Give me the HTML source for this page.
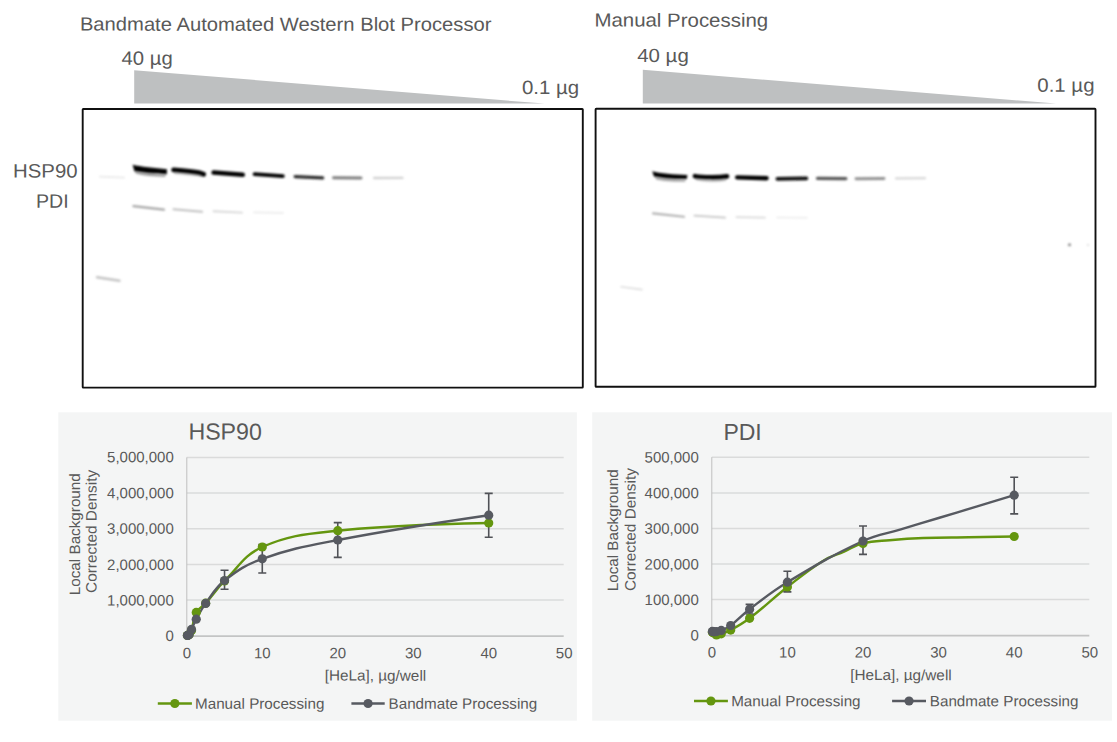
<!DOCTYPE html>
<html><head><meta charset="utf-8"><title>Western blot comparison</title>
<style>html,body{margin:0;padding:0;background:#fff;}svg{display:block;}text{font-family:"Liberation Sans",sans-serif;}</style>
</head><body>
<svg width="1117" height="742" viewBox="0 0 1117 742">
<defs>
<filter id="b1" filterUnits="userSpaceOnUse" x="0" y="0" width="1117" height="742"><feGaussianBlur stdDeviation="0.8"/></filter>
<filter id="b2" filterUnits="userSpaceOnUse" x="0" y="0" width="1117" height="742"><feGaussianBlur stdDeviation="1.2"/></filter>
</defs>
<rect width="1117" height="742" fill="#fff"/>
<text x="79.9" y="30.6" transform="rotate(0.03 79.9 30.6)" font-size="19" text-anchor="start" fill="#595959" textLength="411.6" lengthAdjust="spacingAndGlyphs">Bandmate Automated Western Blot Processor</text>
<text x="594.4" y="26.6" transform="rotate(0.03 594.4 26.6)" font-size="19" text-anchor="start" fill="#595959" textLength="173.8" lengthAdjust="spacingAndGlyphs">Manual Processing</text>
<text x="121.5" y="64.7" transform="rotate(0.03 121.5 64.7)" font-size="19.2" text-anchor="start" fill="#595959" textLength="51.2" lengthAdjust="spacingAndGlyphs">40 µg</text>
<text x="637.2" y="61.9" transform="rotate(0.03 637.2 61.9)" font-size="19" text-anchor="start" fill="#595959" textLength="51.6" lengthAdjust="spacingAndGlyphs">40 µg</text>
<text x="522" y="94" transform="rotate(0.03 522 94)" font-size="19.2" text-anchor="start" fill="#595959" textLength="57.2" lengthAdjust="spacingAndGlyphs">0.1 µg</text>
<text x="1037.3" y="91.7" transform="rotate(0.03 1037.3 91.7)" font-size="19.2" text-anchor="start" fill="#595959" textLength="57.2" lengthAdjust="spacingAndGlyphs">0.1 µg</text>
<text x="13.1" y="177.4" transform="rotate(0.03 13.1 177.4)" font-size="19.4" text-anchor="start" fill="#595959" textLength="64.5" lengthAdjust="spacingAndGlyphs">HSP90</text>
<text x="36" y="207.7" transform="rotate(0.03 36 207.7)" font-size="19.4" text-anchor="start" fill="#595959" textLength="32.6" lengthAdjust="spacingAndGlyphs">PDI</text>
<polygon points="134.2,70.2 544.5,103.6 134.2,103.6" fill="#bec0c1"/>
<polygon points="642.8,69.7 1056,103.6 642.8,103.6" fill="#bec0c1"/>
<rect x="82.7" y="109" width="500.1" height="278.6" rx="0.6" fill="#fff" stroke="#101010" stroke-width="1.9"/>
<rect x="595.6" y="108.8" width="499.9" height="278.0" rx="0.6" fill="#fff" stroke="#101010" stroke-width="1.9"/>
<path d="M132.6,164.8 C140,166.6 155,168.2 167,169.3 L166.8,174.2 C155,173.9 142,172.8 134.4,171.2 Z" fill="#000" filter="url(#b1)"/>
<path d="M135,171.2 C145,172.9 156,174.0 166,174.4 L165,177.0 C154,176.8 142,175.4 136,173.8 Z" fill="#555" opacity="0.55" filter="url(#b2)"/>
<path d="M173.6,169.9 C182,170.6 194,171.8 200,172.9 L203.6,174.3" fill="none" stroke="#000" stroke-width="4.8" stroke-linecap="round" stroke-linejoin="round" filter="url(#b1)"/>
<line x1="175" y1="173.2" x2="201" y2="175.6" stroke="#777" stroke-width="2.2" stroke-linecap="round" filter="url(#b2)" opacity="0.35"/>
<line x1="213.6" y1="172.6" x2="242.8" y2="174.8" stroke="#000" stroke-width="4.5" stroke-linecap="round" filter="url(#b1)" opacity="1"/>
<line x1="254.6" y1="174.1" x2="282.8" y2="176.1" stroke="#000" stroke-width="3.9" stroke-linecap="round" filter="url(#b1)" opacity="1"/>
<line x1="295.2" y1="176.6" x2="322.6" y2="177.9" stroke="#2a2a2a" stroke-width="3.3" stroke-linecap="round" filter="url(#b1)" opacity="1"/>
<line x1="333.6" y1="177.7" x2="361" y2="178.1" stroke="#7e7e7e" stroke-width="3.0" stroke-linecap="round" filter="url(#b1)" opacity="1"/>
<line x1="374.2" y1="178.0" x2="402.4" y2="177.9" stroke="#d2d2d2" stroke-width="2.4" stroke-linecap="round" filter="url(#b1)" opacity="1"/>
<line x1="100" y1="176.6" x2="124" y2="177.6" stroke="#e9e9e9" stroke-width="1.8" stroke-linecap="round" filter="url(#b1)" opacity="1"/>
<line x1="133.5" y1="206.2" x2="164" y2="209.6" stroke="#a6a6a6" stroke-width="2.3" stroke-linecap="round" filter="url(#b1)" opacity="1"/>
<line x1="173.5" y1="209.2" x2="202" y2="211.8" stroke="#c0c0c0" stroke-width="2.1" stroke-linecap="round" filter="url(#b1)" opacity="1"/>
<line x1="213.5" y1="211.2" x2="242" y2="212.6" stroke="#d8d8d8" stroke-width="1.9" stroke-linecap="round" filter="url(#b1)" opacity="1"/>
<line x1="254" y1="212.4" x2="283" y2="212.8" stroke="#ebebeb" stroke-width="1.7" stroke-linecap="round" filter="url(#b1)" opacity="1"/>
<line x1="97" y1="277.2" x2="119.5" y2="280.8" stroke="#c4c4c4" stroke-width="2.4" stroke-linecap="round" filter="url(#b1)" opacity="1"/>
<path d="M652.2,171.2 C660,173.2 674,174.6 687.4,175.0 L686.8,179.0 C674,179.2 660,178.2 654,176.4 Z" fill="#000" filter="url(#b1)"/>
<path d="M655,176.5 C664,178.4 676,179.2 686,179.2 L685,181.8 C674,182 662,181 656,179.4 Z" fill="#666" opacity="0.55" filter="url(#b2)"/>
<path d="M695,176.2 C703,177.5 718,177.7 727,176.4" fill="none" stroke="#000" stroke-width="4.7" stroke-linecap="round" filter="url(#b1)"/>
<path d="M697,179.4 C705,180.8 717,180.9 725,179.8" fill="none" stroke="#777" stroke-width="2.4" stroke-linecap="round" opacity="0.45" filter="url(#b2)"/>
<line x1="737.2" y1="177.4" x2="766.6" y2="178.2" stroke="#000" stroke-width="4.4" stroke-linecap="round" filter="url(#b1)" opacity="1"/>
<line x1="777.4" y1="178.9" x2="806.4" y2="178.3" stroke="#101010" stroke-width="3.7" stroke-linecap="round" filter="url(#b1)" opacity="1"/>
<line x1="817.5" y1="178.3" x2="845.8" y2="178.6" stroke="#565656" stroke-width="3.3" stroke-linecap="round" filter="url(#b1)" opacity="1"/>
<line x1="856" y1="178.8" x2="884" y2="178.5" stroke="#929292" stroke-width="2.9" stroke-linecap="round" filter="url(#b1)" opacity="1"/>
<line x1="896" y1="178.4" x2="925" y2="178.2" stroke="#d8d8d8" stroke-width="2.2" stroke-linecap="round" filter="url(#b1)" opacity="1"/>
<line x1="653" y1="213.4" x2="684" y2="216.8" stroke="#b2b2b2" stroke-width="2.1" stroke-linecap="round" filter="url(#b1)" opacity="1"/>
<line x1="694.5" y1="215.6" x2="725" y2="217.6" stroke="#c6c6c6" stroke-width="1.9" stroke-linecap="round" filter="url(#b1)" opacity="1"/>
<line x1="736.5" y1="217.2" x2="765" y2="217.6" stroke="#dadada" stroke-width="1.7" stroke-linecap="round" filter="url(#b1)" opacity="1"/>
<line x1="777" y1="217.6" x2="807" y2="217.8" stroke="#ebebeb" stroke-width="1.5" stroke-linecap="round" filter="url(#b1)" opacity="1"/>
<line x1="621" y1="286.8" x2="642" y2="289.6" stroke="#dedede" stroke-width="1.6" stroke-linecap="round" filter="url(#b1)" opacity="1"/>
<circle cx="1069.5" cy="244.8" r="1.5" fill="#888" filter="url(#b1)"/>
<circle cx="1088" cy="245" r="1.2" fill="#e4e4e4" filter="url(#b1)"/>
<rect x="58.3" y="412.3" width="518.6" height="308.4" fill="#f4f5f5"/>
<line x1="186.8" y1="636.1" x2="563.7" y2="636.1" stroke="#c3c4c4" stroke-width="1.7"/>
<line x1="186.8" y1="600.0" x2="563.7" y2="600.0" stroke="#dadbdb" stroke-width="1.5"/>
<line x1="186.8" y1="564.4" x2="563.7" y2="564.4" stroke="#dadbdb" stroke-width="1.5"/>
<line x1="186.8" y1="528.7" x2="563.7" y2="528.7" stroke="#dadbdb" stroke-width="1.5"/>
<line x1="186.8" y1="493.0" x2="563.7" y2="493.0" stroke="#dadbdb" stroke-width="1.5"/>
<line x1="186.8" y1="457.4" x2="563.7" y2="457.4" stroke="#dadbdb" stroke-width="1.5"/>
<line x1="186.8" y1="457.4" x2="186.8" y2="636.1" stroke="#bfbfbf" stroke-width="1"/>
<text x="188.4" y="439.6" transform="rotate(0.03 188.4 439.6)" font-size="23.2" text-anchor="start" fill="#595959" textLength="73.5" lengthAdjust="spacingAndGlyphs">HSP90</text>
<text x="173.8" y="640.9" transform="rotate(0.03 173.8 640.9)" font-size="15" text-anchor="end" fill="#595959" >0</text>
<text x="173.8" y="605.6" transform="rotate(0.03 173.8 605.6)" font-size="15" text-anchor="end" fill="#595959" >1,000,000</text>
<text x="173.8" y="570.0" transform="rotate(0.03 173.8 570.0)" font-size="15" text-anchor="end" fill="#595959" >2,000,000</text>
<text x="173.8" y="533.8" transform="rotate(0.03 173.8 533.8)" font-size="15" text-anchor="end" fill="#595959" >3,000,000</text>
<text x="173.8" y="498.2" transform="rotate(0.03 173.8 498.2)" font-size="15" text-anchor="end" fill="#595959" >4,000,000</text>
<text x="173.8" y="462.3" transform="rotate(0.03 173.8 462.3)" font-size="15" text-anchor="end" fill="#595959" >5,000,000</text>
<text x="186.8" y="658.3" transform="rotate(0.03 186.8 658.3)" font-size="15" text-anchor="middle" fill="#595959" >0</text>
<text x="262.28000000000003" y="658.3" transform="rotate(0.03 262.28000000000003 658.3)" font-size="15" text-anchor="middle" fill="#595959" >10</text>
<text x="337.76" y="658.3" transform="rotate(0.03 337.76 658.3)" font-size="15" text-anchor="middle" fill="#595959" >20</text>
<text x="413.24" y="658.3" transform="rotate(0.03 413.24 658.3)" font-size="15" text-anchor="middle" fill="#595959" >30</text>
<text x="488.72" y="658.3" transform="rotate(0.03 488.72 658.3)" font-size="15" text-anchor="middle" fill="#595959" >40</text>
<text x="564.2" y="658.3" transform="rotate(0.03 564.2 658.3)" font-size="15" text-anchor="middle" fill="#595959" >50</text>
<text x="324.7" y="680.6" transform="rotate(0.03 324.7 680.6)" font-size="15" text-anchor="start" fill="#595959" textLength="101.5" lengthAdjust="spacingAndGlyphs">[HeLa], µg/well</text>
<text transform="translate(80,534.2) rotate(-90.03)" font-size="15" text-anchor="middle" fill="#595959" textLength="122" lengthAdjust="spacingAndGlyphs">Local Background</text>
<text transform="translate(96.5,531.4) rotate(-90.03)" font-size="15" text-anchor="middle" fill="#595959" textLength="123" lengthAdjust="spacingAndGlyphs">Corrected Density</text>
<path d="M187.39,635.50 C187.39,635.50 187.77,635.43 187.98,635.30 C188.48,634.99 188.81,634.87 189.16,634.40 C190.23,632.95 190.96,632.22 191.52,630.50 C193.79,623.42 192.91,618.81 196.24,612.40 C198.57,607.89 202.14,607.11 205.67,603.20 C213.47,594.55 216.29,589.19 224.54,581.00 C238.93,566.71 244.31,554.98 262.28,547.00 C289.60,534.86 307.13,533.95 337.76,530.70 C397.71,524.35 488.72,523.00 488.72,523.00" fill="none" stroke="#64960f" stroke-width="2.4" stroke-linejoin="round"/>
<path d="M187.39,635.50 C187.39,635.50 187.76,635.41 187.98,635.30 C188.46,635.05 188.88,635.06 189.16,634.60 C190.30,632.70 190.56,631.48 191.52,629.40 C193.39,625.32 194.09,623.14 196.24,619.20 C199.75,612.74 201.34,609.33 205.67,603.40 C212.66,593.85 215.36,587.73 224.54,580.50 C238.01,569.89 246.03,564.61 262.28,558.80 C291.32,548.41 307.23,545.88 337.76,540.00 C397.81,528.44 488.72,515.20 488.72,515.20" fill="none" stroke="#575a61" stroke-width="2.4" stroke-linejoin="round"/>
<path d="M224.54,570.30 V589.30 M220.54,570.30 h8 M220.54,589.30 h8" stroke="#505257" stroke-width="1.6" fill="none"/>
<path d="M262.28,544.60 V573.00 M258.28,544.60 h8 M258.28,573.00 h8" stroke="#505257" stroke-width="1.6" fill="none"/>
<path d="M337.76,522.60 V557.40 M333.76,522.60 h8 M333.76,557.40 h8" stroke="#505257" stroke-width="1.6" fill="none"/>
<path d="M488.72,493.40 V537.20 M484.72,493.40 h8 M484.72,537.20 h8" stroke="#505257" stroke-width="1.6" fill="none"/>
<circle cx="187.39" cy="635.5" r="4.6" fill="#64960f"/>
<circle cx="187.98" cy="635.3" r="4.6" fill="#64960f"/>
<circle cx="189.16" cy="634.4" r="4.6" fill="#64960f"/>
<circle cx="191.52" cy="630.5" r="4.6" fill="#64960f"/>
<circle cx="196.24" cy="612.4" r="4.6" fill="#64960f"/>
<circle cx="205.67" cy="603.2" r="4.6" fill="#64960f"/>
<circle cx="224.54" cy="581" r="4.6" fill="#64960f"/>
<circle cx="262.28" cy="547" r="4.6" fill="#64960f"/>
<circle cx="337.76" cy="530.7" r="4.6" fill="#64960f"/>
<circle cx="488.72" cy="523" r="4.6" fill="#64960f"/>
<circle cx="187.39" cy="635.5" r="4.6" fill="#575a61"/>
<circle cx="187.98" cy="635.3" r="4.6" fill="#575a61"/>
<circle cx="189.16" cy="634.6" r="4.6" fill="#575a61"/>
<circle cx="191.52" cy="629.4" r="4.6" fill="#575a61"/>
<circle cx="196.24" cy="619.2" r="4.6" fill="#575a61"/>
<circle cx="205.67" cy="603.4" r="4.6" fill="#575a61"/>
<circle cx="224.54" cy="580.5" r="4.6" fill="#575a61"/>
<circle cx="262.28" cy="558.8" r="4.6" fill="#575a61"/>
<circle cx="337.76" cy="540" r="4.6" fill="#575a61"/>
<circle cx="488.72" cy="515.2" r="4.6" fill="#575a61"/>
<line x1="157.8" y1="703.5" x2="191.9" y2="703.5" stroke="#64960f" stroke-width="2.4"/><circle cx="174.85000000000002" cy="703.5" r="4.6" fill="#64960f"/>
<text x="195" y="708.7" transform="rotate(0.03 195 708.7)" font-size="15" text-anchor="start" fill="#595959" textLength="129.4" lengthAdjust="spacingAndGlyphs">Manual Processing</text>
<line x1="351.4" y1="703.5" x2="384.7" y2="703.5" stroke="#575a61" stroke-width="2.4"/><circle cx="368.04999999999995" cy="703.5" r="4.6" fill="#575a61"/>
<text x="388.6" y="708.7" transform="rotate(0.03 388.6 708.7)" font-size="15" text-anchor="start" fill="#595959" textLength="148.6" lengthAdjust="spacingAndGlyphs">Bandmate Processing</text>
<rect x="592.2" y="412.3" width="519.8" height="308.4" fill="#f4f5f5"/>
<line x1="711.8" y1="635.6" x2="1089.3" y2="635.6" stroke="#c3c4c4" stroke-width="1.7"/>
<line x1="711.8" y1="599.5" x2="1089.3" y2="599.5" stroke="#dadbdb" stroke-width="1.5"/>
<line x1="711.8" y1="564.0" x2="1089.3" y2="564.0" stroke="#dadbdb" stroke-width="1.5"/>
<line x1="711.8" y1="528.6" x2="1089.3" y2="528.6" stroke="#dadbdb" stroke-width="1.5"/>
<line x1="711.8" y1="493.0" x2="1089.3" y2="493.0" stroke="#dadbdb" stroke-width="1.5"/>
<line x1="711.8" y1="457.2" x2="1089.3" y2="457.2" stroke="#dadbdb" stroke-width="1.5"/>
<line x1="711.8" y1="457.2" x2="711.8" y2="635.6" stroke="#bfbfbf" stroke-width="1"/>
<text x="723.4" y="440.0" transform="rotate(0.03 723.4 440.0)" font-size="23.2" text-anchor="start" fill="#595959" textLength="38.3" lengthAdjust="spacingAndGlyphs">PDI</text>
<text x="698.8" y="640.4" transform="rotate(0.03 698.8 640.4)" font-size="15" text-anchor="end" fill="#595959" >0</text>
<text x="698.8" y="605.1" transform="rotate(0.03 698.8 605.1)" font-size="15" text-anchor="end" fill="#595959" >100,000</text>
<text x="698.8" y="569.6" transform="rotate(0.03 698.8 569.6)" font-size="15" text-anchor="end" fill="#595959" >200,000</text>
<text x="698.8" y="533.7" transform="rotate(0.03 698.8 533.7)" font-size="15" text-anchor="end" fill="#595959" >300,000</text>
<text x="698.8" y="498.2" transform="rotate(0.03 698.8 498.2)" font-size="15" text-anchor="end" fill="#595959" >400,000</text>
<text x="698.8" y="462.6" transform="rotate(0.03 698.8 462.6)" font-size="15" text-anchor="end" fill="#595959" >500,000</text>
<text x="711.8" y="657.6" transform="rotate(0.03 711.8 657.6)" font-size="15" text-anchor="middle" fill="#595959" >0</text>
<text x="787.4" y="657.6" transform="rotate(0.03 787.4 657.6)" font-size="15" text-anchor="middle" fill="#595959" >10</text>
<text x="863.0" y="657.6" transform="rotate(0.03 863.0 657.6)" font-size="15" text-anchor="middle" fill="#595959" >20</text>
<text x="938.5999999999999" y="657.6" transform="rotate(0.03 938.5999999999999 657.6)" font-size="15" text-anchor="middle" fill="#595959" >30</text>
<text x="1014.1999999999999" y="657.6" transform="rotate(0.03 1014.1999999999999 657.6)" font-size="15" text-anchor="middle" fill="#595959" >40</text>
<text x="1089.8" y="657.6" transform="rotate(0.03 1089.8 657.6)" font-size="15" text-anchor="middle" fill="#595959" >50</text>
<text x="850.2" y="680.1" transform="rotate(0.03 850.2 680.1)" font-size="15" text-anchor="start" fill="#595959" textLength="101.5" lengthAdjust="spacingAndGlyphs">[HeLa], µg/well</text>
<text transform="translate(618,530.3) rotate(-90.03)" font-size="15" text-anchor="middle" fill="#595959" textLength="122" lengthAdjust="spacingAndGlyphs">Local Background</text>
<text transform="translate(635.5,529.6) rotate(-90.03)" font-size="15" text-anchor="middle" fill="#595959" textLength="123" lengthAdjust="spacingAndGlyphs">Corrected Density</text>
<path d="M712.39,632.20 C712.39,632.20 712.76,632.28 712.98,632.40 C713.47,632.68 713.70,632.86 714.16,633.20 C715.12,633.90 715.45,634.91 716.52,635.00 C718.29,635.15 719.41,634.44 721.25,633.80 C725.08,632.48 727.15,632.04 730.70,630.10 C738.49,625.84 742.52,623.68 749.60,618.30 C765.20,606.44 771.95,599.09 787.40,587.00 C801.28,576.13 808.05,570.19 822.93,560.90 C830.73,556.03 835.62,555.30 844.10,551.60 C851.65,548.30 855.09,545.39 863.00,543.40 C873.23,540.83 878.85,541.15 889.46,540.20 C903.04,538.99 909.86,538.50 923.48,538.00 C941.61,537.34 950.70,537.60 968.84,537.30 C986.98,537.00 1014.20,536.50 1014.20,536.50" fill="none" stroke="#64960f" stroke-width="2.4" stroke-linejoin="round"/>
<path d="M712.39,631.40 C712.39,631.40 712.74,631.55 712.98,631.60 C713.45,631.71 713.69,631.80 714.16,631.80 C715.10,631.80 715.60,631.78 716.52,631.60 C718.43,631.22 719.47,631.17 721.25,630.40 C725.14,628.73 727.31,628.04 730.70,625.50 C738.65,619.56 741.67,615.25 749.60,609.20 C764.35,597.93 771.50,591.76 787.40,582.20 C816.86,564.48 831.92,555.47 863.00,541.00 C877.28,534.35 885.67,534.00 900.80,529.40 C915.91,524.80 923.48,522.56 938.60,518.00 C953.72,513.44 961.28,511.16 976.40,506.60 C991.52,502.04 1014.20,495.20 1014.20,495.20" fill="none" stroke="#575a61" stroke-width="2.4" stroke-linejoin="round"/>
<path d="M749.60,604.40 V614.00 M745.60,604.40 h8 M745.60,614.00 h8" stroke="#505257" stroke-width="1.6" fill="none"/>
<path d="M787.40,571.30 V591.90 M783.40,571.30 h8 M783.40,591.90 h8" stroke="#505257" stroke-width="1.6" fill="none"/>
<path d="M863.00,526.00 V554.40 M859.00,526.00 h8 M859.00,554.40 h8" stroke="#505257" stroke-width="1.6" fill="none"/>
<path d="M1014.20,477.30 V513.90 M1010.20,477.30 h8 M1010.20,513.90 h8" stroke="#505257" stroke-width="1.6" fill="none"/>
<circle cx="712.39" cy="632.2" r="4.6" fill="#64960f"/>
<circle cx="712.98" cy="632.4" r="4.6" fill="#64960f"/>
<circle cx="714.16" cy="633.2" r="4.6" fill="#64960f"/>
<circle cx="716.52" cy="635.0" r="4.6" fill="#64960f"/>
<circle cx="721.25" cy="633.8" r="4.6" fill="#64960f"/>
<circle cx="730.70" cy="630.1" r="4.6" fill="#64960f"/>
<circle cx="749.60" cy="618.3" r="4.6" fill="#64960f"/>
<circle cx="787.40" cy="587" r="4.6" fill="#64960f"/>
<circle cx="863.00" cy="543.4" r="4.6" fill="#64960f"/>
<circle cx="1014.20" cy="536.5" r="4.6" fill="#64960f"/>
<circle cx="712.39" cy="631.4" r="4.6" fill="#575a61"/>
<circle cx="712.98" cy="631.6" r="4.6" fill="#575a61"/>
<circle cx="714.16" cy="631.8" r="4.6" fill="#575a61"/>
<circle cx="716.52" cy="631.6" r="4.6" fill="#575a61"/>
<circle cx="721.25" cy="630.4" r="4.6" fill="#575a61"/>
<circle cx="730.70" cy="625.5" r="4.6" fill="#575a61"/>
<circle cx="749.60" cy="609.2" r="4.6" fill="#575a61"/>
<circle cx="787.40" cy="582.2" r="4.6" fill="#575a61"/>
<circle cx="863.00" cy="541" r="4.6" fill="#575a61"/>
<circle cx="1014.20" cy="495.2" r="4.6" fill="#575a61"/>
<line x1="694" y1="701" x2="727.9" y2="701" stroke="#64960f" stroke-width="2.4"/><circle cx="710.95" cy="701" r="4.6" fill="#64960f"/>
<text x="731.2" y="706.2" transform="rotate(0.03 731.2 706.2)" font-size="15" text-anchor="start" fill="#595959" textLength="129.4" lengthAdjust="spacingAndGlyphs">Manual Processing</text>
<line x1="892.1" y1="701" x2="926" y2="701" stroke="#575a61" stroke-width="2.4"/><circle cx="909.05" cy="701" r="4.6" fill="#575a61"/>
<text x="929.8" y="706.2" transform="rotate(0.03 929.8 706.2)" font-size="15" text-anchor="start" fill="#595959" textLength="148.6" lengthAdjust="spacingAndGlyphs">Bandmate Processing</text>
</svg>
</body></html>
